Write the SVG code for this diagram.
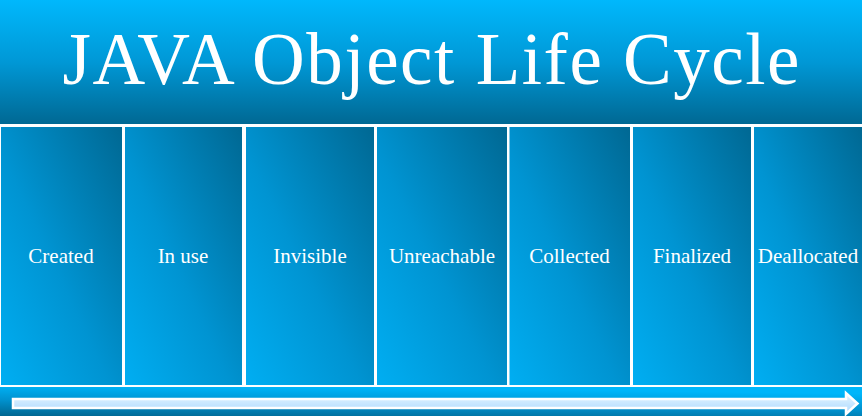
<svg xmlns="http://www.w3.org/2000/svg" width="862" height="416" viewBox="0 0 862 416">
  <defs>
    <linearGradient id="hdr" x1="0" y1="0" x2="0" y2="1">
      <stop offset="0" stop-color="#00b8fc"/>
      <stop offset="0.5" stop-color="#0098d6"/>
      <stop offset="1" stop-color="#006893"/>
    </linearGradient>
    <linearGradient id="col" x1="0" y1="1" x2="1" y2="0">
      <stop offset="0" stop-color="#00aef2"/>
      <stop offset="0.45" stop-color="#0094d2"/>
      <stop offset="1" stop-color="#006893"/>
    </linearGradient>
    <linearGradient id="band" x1="0" y1="1" x2="0.35" y2="0">
      <stop offset="0" stop-color="#006690"/>
      <stop offset="0.5" stop-color="#0092cf"/>
      <stop offset="1" stop-color="#00b6fa"/>
    </linearGradient>
    <linearGradient id="arrowFill" x1="0" y1="0" x2="0" y2="1">
      <stop offset="0" stop-color="#e8f6ff"/>
      <stop offset="1" stop-color="#a8d8ff"/>
    </linearGradient>
  </defs>
  <style>
    .col { fill: url(#col); }
    .lbl { font-family: "Liberation Serif", "DejaVu Serif", serif; font-size: 21px; fill: #ffffff; text-anchor: middle; }
    .title { font-family: "Liberation Serif", "DejaVu Serif", serif; font-size: 73px; fill: #ffffff; text-anchor: middle; }
  </style>
  <rect x="0" y="0" width="862" height="416" fill="#ffffff"/>
  <g id="header">
    <rect x="0" y="0" width="862" height="124" fill="url(#hdr)"/>
    <text class="title" x="431" y="84" textLength="737" lengthAdjust="spacing">JAVA Object Life Cycle</text>
  </g>
  <g id="created">
    <rect class="col" x="1" y="127" width="121" height="258"/>
    <text class="lbl" x="61" y="263">Created</text>
  </g>
  <g id="in-use">
    <rect class="col" x="125" y="127" width="117" height="258"/>
    <text class="lbl" x="183" y="263">In use</text>
  </g>
  <g id="invisible">
    <rect class="col" x="246" y="127" width="128" height="258"/>
    <text class="lbl" x="310" y="263">Invisible</text>
  </g>
  <g id="unreachable">
    <rect class="col" x="377" y="127" width="130" height="258"/>
    <text class="lbl" x="442" y="263">Unreachable</text>
  </g>
  <g id="collected">
    <rect class="col" x="509.5" y="127" width="120.5" height="258"/>
    <text class="lbl" x="569.5" y="263">Collected</text>
  </g>
  <g id="finalized">
    <rect class="col" x="633" y="127" width="118" height="258"/>
    <text class="lbl" x="692" y="263">Finalized</text>
  </g>
  <g id="deallocated">
    <rect class="col" x="754" y="127" width="108" height="258"/>
    <text class="lbl" x="808" y="263">Deallocated</text>
  </g>
  <g id="connectors">
    <rect x="0" y="387" width="862" height="29" fill="url(#band)"/>
    <path d="M13,399 H846 V393 L857.5,403.5 L846,414 V408 H13 Z" fill="url(#arrowFill)" stroke="#ffffff" stroke-width="2.5" stroke-linejoin="miter"/>
  </g>
</svg>
